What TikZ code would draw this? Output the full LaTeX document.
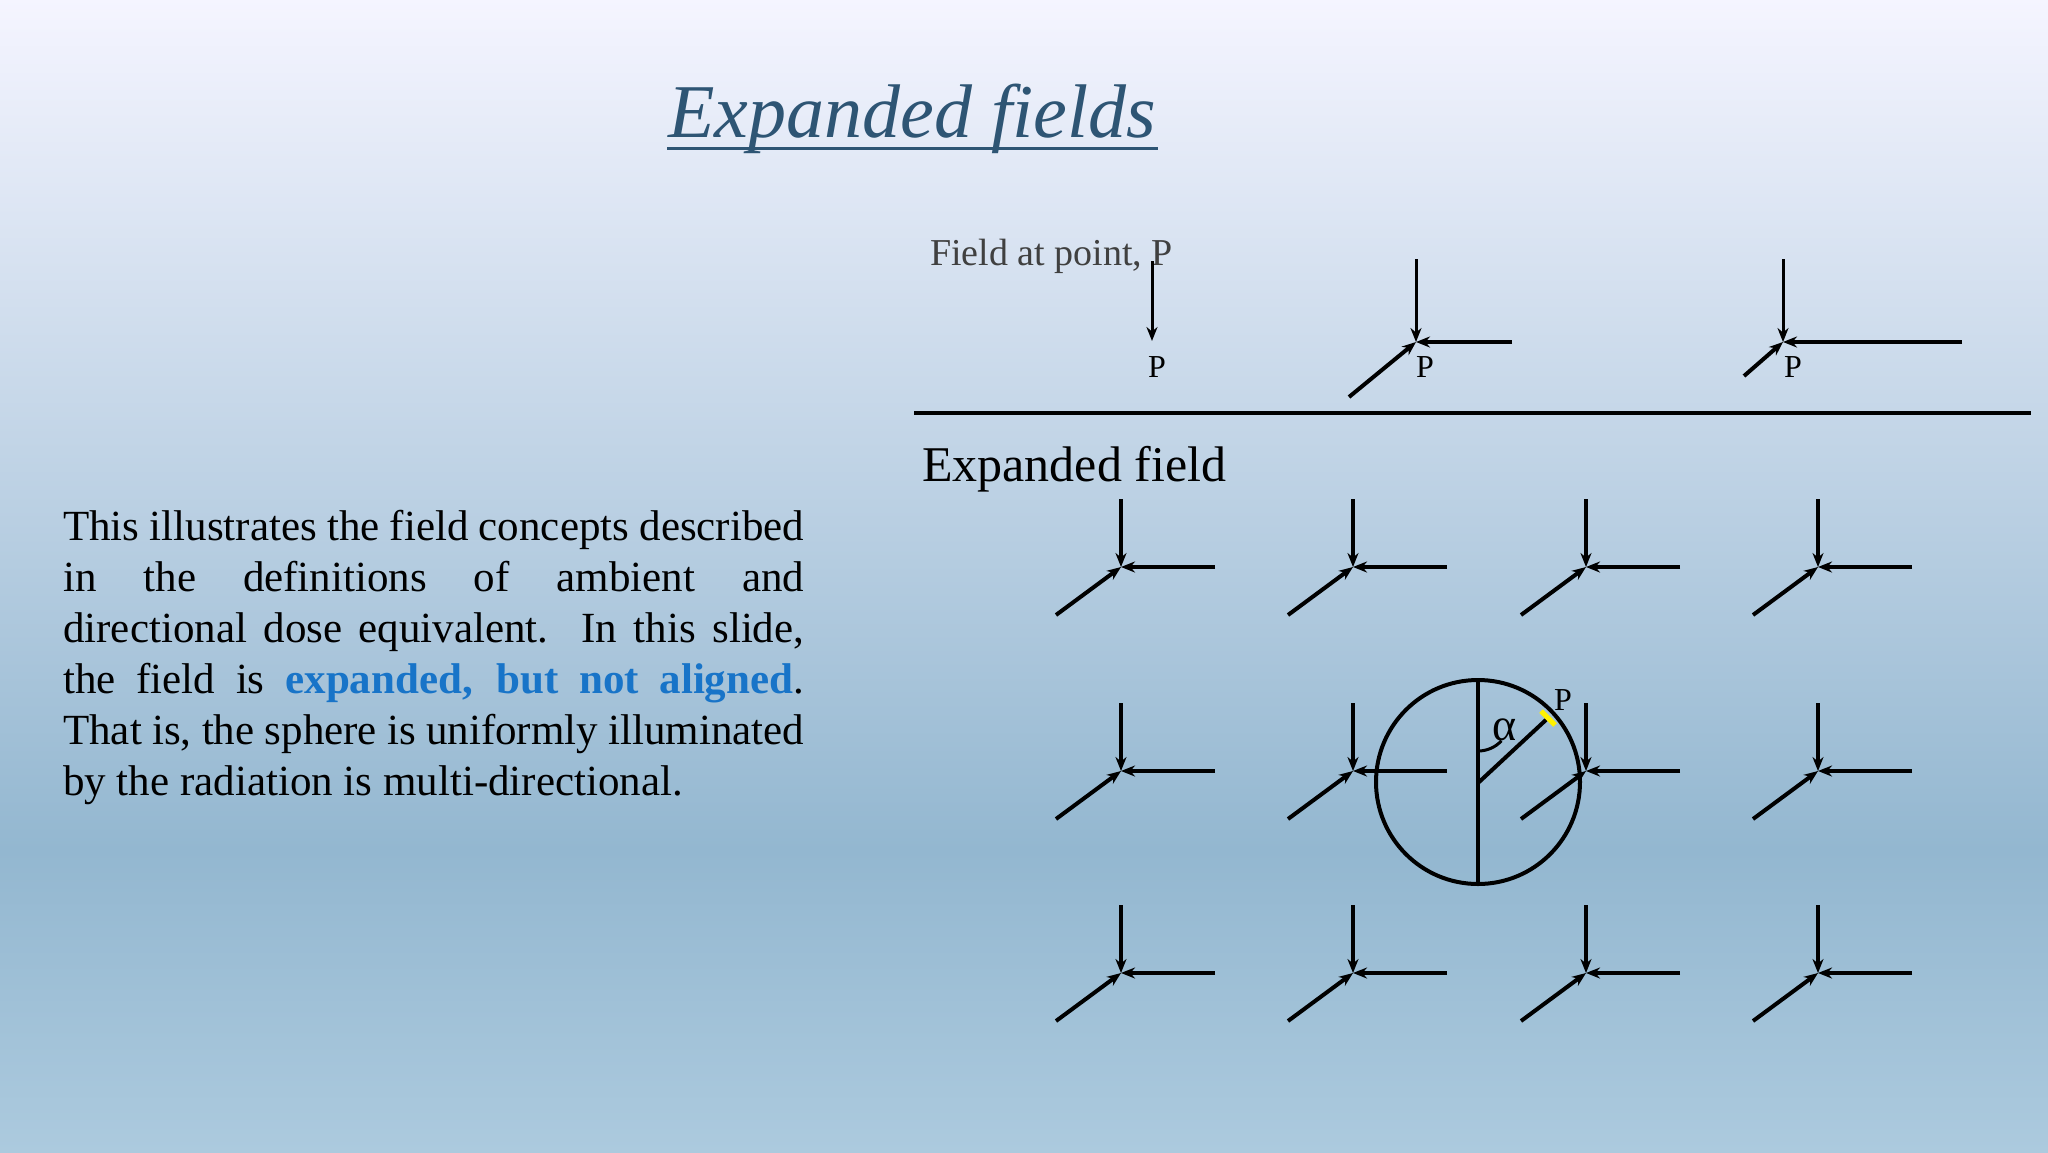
\documentclass[tikz,border=0pt]{standalone}
\usepackage{fontspec}
\setmainfont{Liberation Serif}
\usetikzlibrary{arrows.meta}
\definecolor{titlec}{HTML}{2E5574}
\definecolor{bluec}{HTML}{1874C8}
\definecolor{grayc}{HTML}{404040}
\tikzset{
  ar/.style={line width=4pt,-{Stealth[length=14pt,width=11pt]}},
  pl/.style={line width=4pt},
}
\newcommand{\fieldstar}[3]{%
  \coordinate (#3) at (#1,#2);
  \coordinate (#3v) at (#1,#2-68);
  \coordinate (#3h) at (#1+94,#2);
  \coordinate (#3d) at (#1-65,#2+48);
  \draw[ar] (#3v) -- (#3);
  \draw[ar] (#3h) -- (#3);
  \draw[ar] (#3d) -- (#3);
}
\begin{document}
\begin{tikzpicture}[x=1pt,y=-1pt]
\useasboundingbox (0,0) rectangle (2048,1152);
\shade[top color=white!96!blue, bottom color={rgb,255:red,147;green,183;blue,208}] (0,0) rectangle (2048,850);
\shade[top color={rgb,255:red,147;green,183;blue,208}, bottom color={rgb,255:red,172;green,202;blue,222}] (0,849) rectangle (2048,1152);
% title
\node[anchor=base, text=titlec, font=\fontsize{76}{80}\selectfont\itshape, inner sep=0] (title) at (912,137) {Expanded fields};
\coordinate (u1) at (667,148); \coordinate (u2) at (1158,148);
\draw[titlec, line width=3pt] (u1) -- (u2);
% body
\node[anchor=north west, inner sep=0, text width=741pt, align=justify, font=\fontsize{43}{51}\selectfont] (body) at (63,510)
{This illustrates the field concepts described\linebreak in the definitions of ambient and\linebreak directional dose equivalent.\ \ In this slide,\linebreak the field is \textcolor{bluec}{\textbf{expanded, but not aligned}}.\linebreak That is, the sphere is uniformly illuminated\linebreak by the radiation is multi-directional.};
% top
\node[anchor=base west, inner sep=0, text=grayc, font=\fontsize{38}{40}\selectfont] (fap) at (930,265) {Field at point, P};
\coordinate (a1) at (1152,341);
\coordinate (a1t) at (1152,261);
\draw[ar, line width=3pt] (a1t) -- (a1);
\node[anchor=base, inner sep=0, font=\fontsize{32}{34}\selectfont] (p1) at (1157,377) {P};
\coordinate (b) at (1416,342); \coordinate (bv) at (1416,259); \coordinate (bh) at (1512,342); \coordinate (bd) at (1349,397);
\draw[ar, line width=3pt] (bv) -- (b); \draw[ar] (bh) -- (b); \draw[ar] (bd) -- (b);
\node[anchor=base, inner sep=0, font=\fontsize{32}{34}\selectfont] (p2) at (1425,377) {P};
\coordinate (c) at (1783,342); \coordinate (cv) at (1783,259); \coordinate (ch) at (1962,342); \coordinate (cd) at (1744,376);
\draw[ar, line width=3pt] (cv) -- (c); \draw[ar] (ch) -- (c); \draw[ar] (cd) -- (c);
\node[anchor=base, inner sep=0, font=\fontsize{32}{34}\selectfont] (p3) at (1793,377) {P};
\coordinate (l1) at (914,413); \coordinate (l2) at (2031,413);
\draw[line width=4.5pt] (l1) -- (l2);
\node[anchor=base west, inner sep=0, font=\fontsize{50}{54}\selectfont] (ef) at (922,481) {Expanded field};
% grid
\foreach \x [count=\i] in {1121,1353,1586,1818}{
  \foreach \y [count=\j] in {567,771,973}{
    \fieldstar{\x}{\y}{g\i\j}
  }
}
% sphere
\coordinate (sc) at (1478,782);
\draw[pl] (sc) circle[radius=102];
\coordinate (stop) at (1478,680); \coordinate (sbot) at (1478,884);
\coordinate (sj) at (1478,783); \coordinate (sp) at (1548,718);
\draw[pl] (stop) -- (sbot);
\draw[pl] (sj) -- (sp);
\draw[yellow, line width=5pt] (1541,711) -- (1555,725);
\draw[line width=3pt] (1478,751) arc[start angle=90, end angle=43, radius=32];
\node[anchor=base, inner sep=0, font=\fontsize{46}{46}\selectfont] (alpha) at (1505,740) {α};
\node[anchor=base, inner sep=0, font=\fontsize{32}{34}\selectfont] (pp) at (1563,710) {P};
\end{tikzpicture}
\end{document}
